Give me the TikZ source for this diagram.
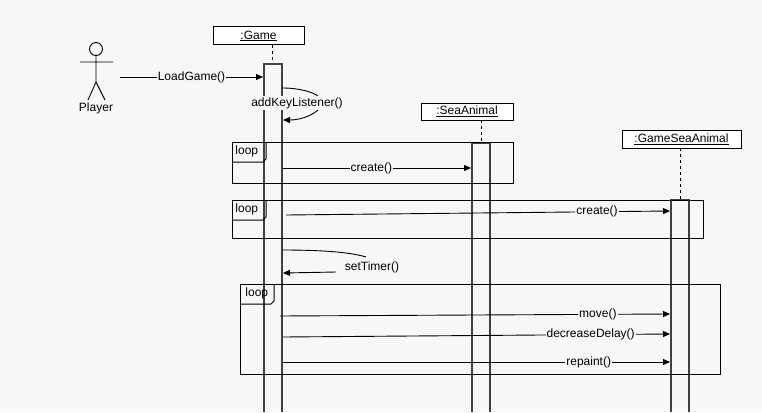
\documentclass[tikz,border=0pt]{standalone}
\usepackage{fontspec}
\setmainfont{Liberation Sans}
\usetikzlibrary{arrows.meta}
\begin{document}
\begin{tikzpicture}[x=1pt,y=-1pt,line width=0.9pt,
  lbl/.style={font=\fontsize{12}{14}\selectfont,inner sep=1pt},
  msg/.style={-{Triangle[length=7pt,width=6pt]}},
  box/.style={draw,line width=1pt,fill=white},
  frame/.style={draw,line width=1pt}]
\colorlet{bg}{white!97!black}
\fill[bg] (0,0) rectangle (762,412);
\useasboundingbox (0,0) rectangle (762,412);
\colorlet{ln}{black!75}
% lifelines heads
\node[box,minimum width=91pt,minimum height=18pt,lbl] (game) at (258.5,36) {\underline{:Game}};
\node[box,minimum width=92pt,minimum height=17pt,lbl] (sea) at (467,111.5) {\underline{:SeaAnimal}};
\node[box,minimum width=119pt,minimum height=18pt,lbl] (gsa) at (681.5,139) {\underline{:GameSeaAnimal}};
\draw[dashed] (272,45) -- (272,64);
\draw[dashed] (481,120) -- (481,143);
\draw[dashed] (680,148) -- (680,200);
% activation bars
\draw[draw=ln,line width=1.2pt] (264,412) -- (264,64) -- (282,64) -- (282,412);
\draw[draw=ln,line width=1.2pt] (472,412) -- (472,143) -- (490,143) -- (490,412);
\draw[draw=ln,line width=1.2pt] (671,412) -- (671,200) -- (689,200) -- (689,412);
% actor
\draw (96,49) circle (6.5);
\draw (96,55.5) -- (96,82) (80,62) -- (113,62) (96,82) -- (88,100) (96,82) -- (105,100);
\node[lbl] (player) at (96,108) {Player};
\coordinate (pl) at (120,77);
\coordinate (g1) at (263,77);
\draw[msg] (pl) -- (g1) node[pos=0.5,lbl,fill=bg] {LoadGame()};
% addKeyListener
\coordinate (a1) at (282,88);\coordinate (a2) at (318,96);
\draw (a1) .. controls (300,88) and (312,92) .. (a2);
\node[lbl,fill=bg] (akl) at (297,103) {addKeyListener()};
\draw[msg] (318,110) .. controls (310,117) and (298,120) .. (283,120);
% loop 1
\draw[frame] (232,142) rectangle (513,183);
\draw[frame] (232,162) -- (263,162) -- (266,159) -- (266,142);
\node[lbl,anchor=north west] (l1) at (234,144) {loop};
\coordinate (c1s) at (283,168);\coordinate (c1e) at (471,168);
\draw[msg] (c1s) -- (c1e) node[pos=0.47,lbl,fill=bg] {create()};
% loop 2
\draw[frame] (232,200) rectangle (703,238);
\draw[frame] (232,220) -- (263,220) -- (266,217) -- (266,200);
\node[lbl,anchor=north west] (l2) at (234,202) {loop};
\coordinate (c2s) at (286,215);\coordinate (c2e) at (670,211);
\draw[msg] (c2s) -- (c2e) node[pos=0.81,lbl,fill=bg] {create()};
% setTimer
\draw (282,250) .. controls (320,250) and (350,252) .. (366,257);
\node[lbl] (st) at (372,267) {setTimer()};
\draw[msg] (336,272) -- (283,273);
% loop 3
\draw[frame] (240,284) rectangle (720,374);
\draw[frame] (240,304) -- (271,304) -- (274,301) -- (274,284);
\node[lbl,anchor=north west] (l3) at (244,286) {loop};
\draw[msg] (280,316) -- (670,314) node[pos=0.815,lbl,fill=bg] {move()};
\draw[msg] (283,337) -- (670,334) node[pos=0.795,lbl,fill=bg] {decreaseDelay()};
\draw[msg] (283,362) -- (670,362) node[pos=0.79,lbl,fill=bg] {repaint()};
\end{tikzpicture}
\end{document}
